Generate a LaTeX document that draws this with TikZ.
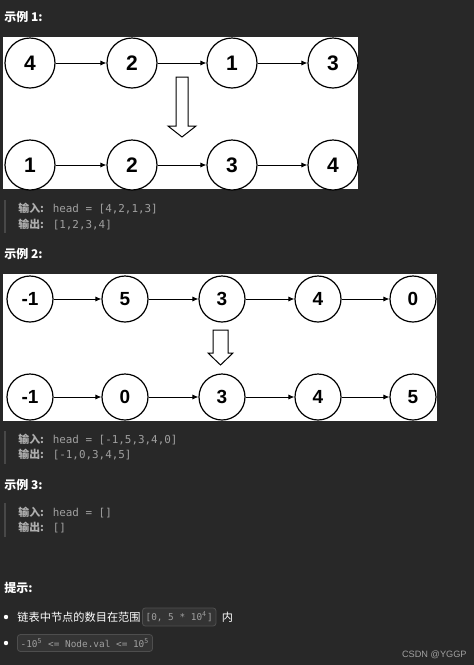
\documentclass[tikz,border=0pt]{standalone}
\usepackage{fontspec}
\setmainfont{Liberation Sans}
\newfontfamily\cjk{Noto Sans CJK SC}
\newfontfamily\codefont{DejaVu Sans Mono}
\usetikzlibrary{arrows.meta}

\definecolor{pagebg}{RGB}{40,40,40}
\definecolor{labelgray}{RGB}{175,175,175}
\definecolor{codegray}{RGB}{160,160,160}
\definecolor{bargray}{RGB}{72,72,72}
\definecolor{chipfill}{RGB}{52,52,52}
\definecolor{chipline}{RGB}{78,78,78}

\begin{document}
\begin{tikzpicture}[
    x=0.5pt, y=-0.5pt,
    listnode/.style={draw, circle, fill=white, line width=0.6pt, minimum size=25pt, inner sep=0pt, font=\bfseries\fontsize{10.5}{12}\selectfont},
    smallnode/.style={listnode, minimum size=23pt, font=\bfseries\fontsize{9.5}{11}\selectfont},
    link/.style={-{Latex[length=3pt, width=2.6pt]}, line width=0.5pt},
    hollow/.style={draw, fill=white, line width=0.5pt},
    heading/.style={anchor=west, inner sep=0pt, text=white, font=\cjk\bfseries\fontsize{6}{7}\selectfont},
    codeline/.style={anchor=west, inner sep=0pt, text=codegray, font=\codefont\fontsize{5.45}{7}\selectfont},
    quotebar/.style={draw=bargray, line width=1pt},
    tip/.style={anchor=west, inner sep=0pt, text=white, font=\cjk\fontsize{5.6}{7}\selectfont},
    chip/.style={anchor=west, fill=chipfill, draw=chipline, line width=0.4pt, rounded corners=1.5pt, inner xsep=1.6pt, inner ysep=2pt, text=codegray, font=\codefont\fontsize{4.7}{6}\selectfont}
]
    % page background
    \useasboundingbox[fill=pagebg] (0,0) rectangle (474,665);

    % Example 1
    \node[heading] (head1) at (4,17) {示例 1:};
    \fill[white] (3,37) rectangle (358,189);
    \node[listnode] (a1) at (30,63) {4};
    \node[listnode] (a2) at (132,63) {2};
    \node[listnode] (a3) at (232,63) {1};
    \node[listnode] (a4) at (333,63) {3};
    \node[listnode] (b1) at (30,165) {1};
    \node[listnode] (b2) at (132,165) {2};
    \node[listnode] (b3) at (232,165) {3};
    \node[listnode] (b4) at (333,165) {4};
    \draw[link] (a1) -- (a2);
    \draw[link] (a2) -- (a3);
    \draw[link] (a3) -- (a4);
    \draw[link] (b1) -- (b2);
    \draw[link] (b2) -- (b3);
    \draw[link] (b3) -- (b4);
    \draw[hollow] (176,77) -- (188,77) -- (188,126) -- (196,126) -- (182,137) -- (168,126) -- (176,126) -- cycle;

    \draw[quotebar] (5,200) -- (5,233);
    \node[codeline] (in1) at (18,209) {{\cjk\bfseries\color{labelgray}输入:} head = [4,2,1,3]};
    \node[codeline] (out1) at (18,225) {{\cjk\bfseries\color{labelgray}输出:} [1,2,3,4]};

    % Example 2
    \node[heading] (head2) at (4,254) {示例 2:};
    \fill[white] (3,274) rectangle (437,421);
    \node[smallnode] (c1) at (30,299) {-1};
    \node[smallnode] (c2) at (125,299) {5};
    \node[smallnode] (c3) at (222,299) {3};
    \node[smallnode] (c4) at (318,299) {4};
    \node[smallnode] (c5) at (413,299) {0};
    \node[smallnode] (d1) at (30,397) {-1};
    \node[smallnode] (d2) at (125,397) {0};
    \node[smallnode] (d3) at (222,397) {3};
    \node[smallnode] (d4) at (318,397) {4};
    \node[smallnode] (d5) at (413,397) {5};
    \draw[link] (c1) -- (c2);
    \draw[link] (c2) -- (c3);
    \draw[link] (c3) -- (c4);
    \draw[link] (c4) -- (c5);
    \draw[link] (d1) -- (d2);
    \draw[link] (d2) -- (d3);
    \draw[link] (d3) -- (d4);
    \draw[link] (d4) -- (d5);
    \draw[hollow] (213,330) -- (228,330) -- (228,353) -- (233,353) -- (220.5,365) -- (208,353) -- (213,353) -- cycle;

    \draw[quotebar] (5,431) -- (5,464);
    \node[codeline] (in2) at (18,440) {{\cjk\bfseries\color{labelgray}输入:} head = [-1,5,3,4,0]};
    \node[codeline] (out2) at (18,455) {{\cjk\bfseries\color{labelgray}输出:} [-1,0,3,4,5]};

    % Example 3
    \node[heading] (head3) at (4,485) {示例 3:};
    \draw[quotebar] (5,503) -- (5,537);
    \node[codeline] (in3) at (18,513) {{\cjk\bfseries\color{labelgray}输入:} head = []};
    \node[codeline] (out3) at (18,528) {{\cjk\bfseries\color{labelgray}输出:} []};

    % Hints
    \node[heading] (head4) at (4,588) {提示:};
    \fill[white] (6,617) circle (2.2);
    \node[tip] (hint1) at (17,617) {链表中节点的数目在范围};
    \node[chip] (range1) at (142,617) {[0, 5 * 10\textsuperscript{4}]};
    \node[tip, anchor=west] (hint1b) at ([xshift=2.5pt]range1.east) {内};
    \fill[white] (6,643) circle (2.2);
    \node[chip] (range2) at (17,643) {-10\textsuperscript{5} <= Node.val <= 10\textsuperscript{5}};

    \node[anchor=east, inner sep=0pt, text=codegray, font=\fontsize{4.6}{6}\selectfont] (mark) at (467,655) {CSDN @YGGP};
\end{tikzpicture}
\end{document}
